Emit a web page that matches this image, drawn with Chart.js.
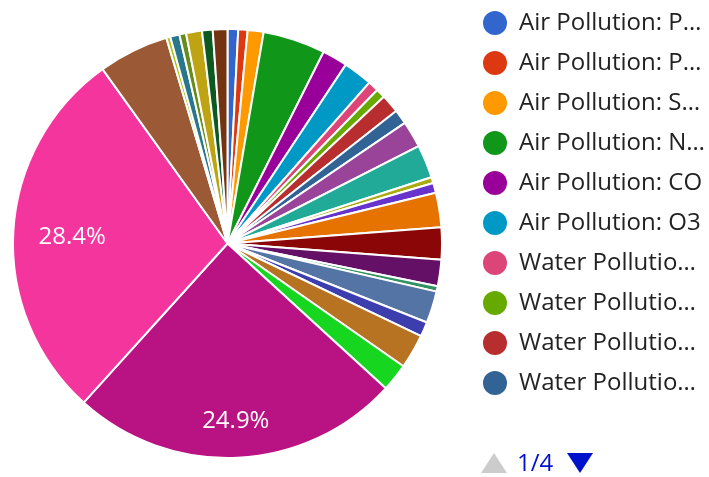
<!DOCTYPE html>
<html>
<head>
<meta charset="utf-8">
<script src="https://cdn.jsdelivr.net/npm/chart.js@4.4.1/dist/chart.umd.min.js"></script>
<style>
  html, body { margin: 0; padding: 0; background: #fff; }
  #wrap { width: 709px; height: 477px; position: relative; }
</style>
</head>
<body>
<div id="wrap"><canvas id="pie"></canvas></div>
<script>
const labels = [
  'Air Pollution: PM2.5', 'Air Pollution: PM10', 'Air Pollution: SO2', 'Air Pollution: NO2',
  'Air Pollution: CO', 'Air Pollution: O3', 'Water Pollution: Nitrates', 'Water Pollution: Phosphates',
  'Water Pollution: Lead', 'Water Pollution: Mercury', 'Water Pollution: Arsenic', 'Water Pollution: Microplastics',
  'Soil Pollution: Pesticides', 'Soil Pollution: Heavy Metals', 'Soil Pollution: Hydrocarbons', 'Soil Pollution: Salinity',
  'Noise Pollution: Traffic', 'Noise Pollution: Industry', 'Noise Pollution: Aircraft', 'Light Pollution: Urban',
  'Light Pollution: Industrial', 'Thermal Pollution: Power Plants', 'Plastic Waste: Packaging', 'Plastic Waste: Single-use',
  'Plastic Waste: Fishing Gear', 'Radioactive: Medical', 'Radioactive: Nuclear Power', 'E-Waste: Batteries',
  'E-Waste: Electronics', 'Chemical Spills: Oil', 'Chemical Spills: Industrial'
];
const values = [
  0.8, 0.7, 1.2, 4.7, 1.9, 2.2, 0.8, 0.7, 1.4, 1.1,
  2.0, 2.5, 0.45, 0.75, 2.6, 2.4, 2.0, 0.4, 2.4, 1.1,
  2.6, 2.1, 24.9, 28.4, 5.3, 0.3, 0.7, 0.5, 1.2, 0.8, 1.1
];
const colors = [
  '#3366cc', '#dc3912', '#ff9900', '#109618', '#990099', '#0099c6', '#dd4477', '#66aa00',
  '#b82e2e', '#316395', '#994499', '#22aa99', '#aaaa11', '#6633cc', '#e67300', '#8b0707',
  '#651067', '#329262', '#5574a6', '#3b3eac', '#b77322', '#16d620', '#b91383', '#f4359e',
  '#9c5935', '#a9c413', '#2a778d', '#668d1c', '#bea413', '#0c5922', '#743411'
];
const pageLabel = '1/4';
const itemsPerPage = 10;

const FONT = '"Open Sans", "Noto Sans", sans-serif';

// cut legend text to fit, like the original
function fitText(ctx, text, maxW) {
  if (ctx.measureText(text).width <= maxW) return text;
  let t = text;
  while (t.length > 1 && ctx.measureText(t + '…').width > maxW) t = t.slice(0, -1);
  return t + '…';
}

const sliceLabels = {
  id: 'sliceLabels',
  afterDatasetsDraw(chart) {
    const ctx = chart.ctx;
    const meta = chart.getDatasetMeta(0);
    const total = values.reduce((a, b) => a + b, 0);
    ctx.save();
    ctx.font = '24px ' + FONT;
    ctx.fillStyle = '#ffffff';
    ctx.textAlign = 'center';
    ctx.textBaseline = 'middle';
    meta.data.forEach((arc, i) => {
      const pct = values[i] / total * 100;
      if (pct < 10) return;
      const p = arc.getProps(['x', 'y', 'startAngle', 'endAngle', 'outerRadius'], true);
      const mid = (p.startAngle + p.endAngle) / 2;
      const ux = Math.cos(mid), uy = Math.sin(mid);
      const text = pct.toFixed(1) + '%';
      const hw = ctx.measureText(text).width / 2;
      const d = 0.885 * p.outerRadius - (Math.abs(ux) * hw + Math.abs(uy) * 12);
      ctx.fillText(text, p.x + ux * d, p.y + uy * d + 2);
    });
    ctx.restore();
  }
};

// put the legend where the original has it
const legendPlace = {
  id: 'legendPlace',
  afterLayout(chart) {
    const lg = chart.legend;
    lg.left = 467;
    lg.right = 709;
    lg.width = 242;
    lg.top = -5;
  }
};

const pager = {
  id: 'pager',
  afterDraw(chart) {
    const ctx = chart.ctx;
    ctx.save();
    ctx.fillStyle = '#cccccc';
    ctx.beginPath();
    ctx.moveTo(481, 473); ctx.lineTo(494, 453); ctx.lineTo(507, 473);
    ctx.closePath(); ctx.fill();
    ctx.fillStyle = '#0011cc';
    ctx.font = '24px ' + FONT;
    ctx.textBaseline = 'middle';
    ctx.fillText(pageLabel, 517, 464);
    ctx.beginPath();
    ctx.moveTo(567, 453); ctx.lineTo(593, 453); ctx.lineTo(580, 473);
    ctx.closePath(); ctx.fill();
    ctx.restore();
  }
};

const ctx = document.querySelector('#pie').getContext('2d');
new Chart(ctx, {
  type: 'pie',
  data: {
    labels,
    datasets: [{
      data: values,
      backgroundColor: colors,
      borderColor: '#ffffff',
      borderWidth: 2
    }]
  },
  options: {
    responsive: true,
    maintainAspectRatio: false,
    animation: false,
    layout: { padding: { left: 12, top: 28, right: 66, bottom: 18 } },
    plugins: {
      tooltip: { enabled: false },
      legend: {
        position: 'right',
        align: 'start',
        maxWidth: 200,
        labels: {
          usePointStyle: true,
          pointStyle: 'circle',
          pointStyleWidth: 24,
          boxHeight: 17,
          padding: 16,
          color: '#222222',
          font: { family: FONT, size: 24 },
          generateLabels(chart) {
            const base = Chart.overrides.pie.plugins.legend.labels.generateLabels(chart);
            const c = chart.ctx;
            c.save();
            c.font = '24px ' + FONT;
            const out = base.slice(0, itemsPerPage).map(item => ({
              ...item,
              text: fitText(c, item.text, 189),
              lineWidth: 0,
              strokeStyle: item.fillStyle
            }));
            c.restore();
            return out;
          }
        }
      }
    }
  },
  plugins: [sliceLabels, legendPlace, pager]
});
</script>
</body>
</html>
